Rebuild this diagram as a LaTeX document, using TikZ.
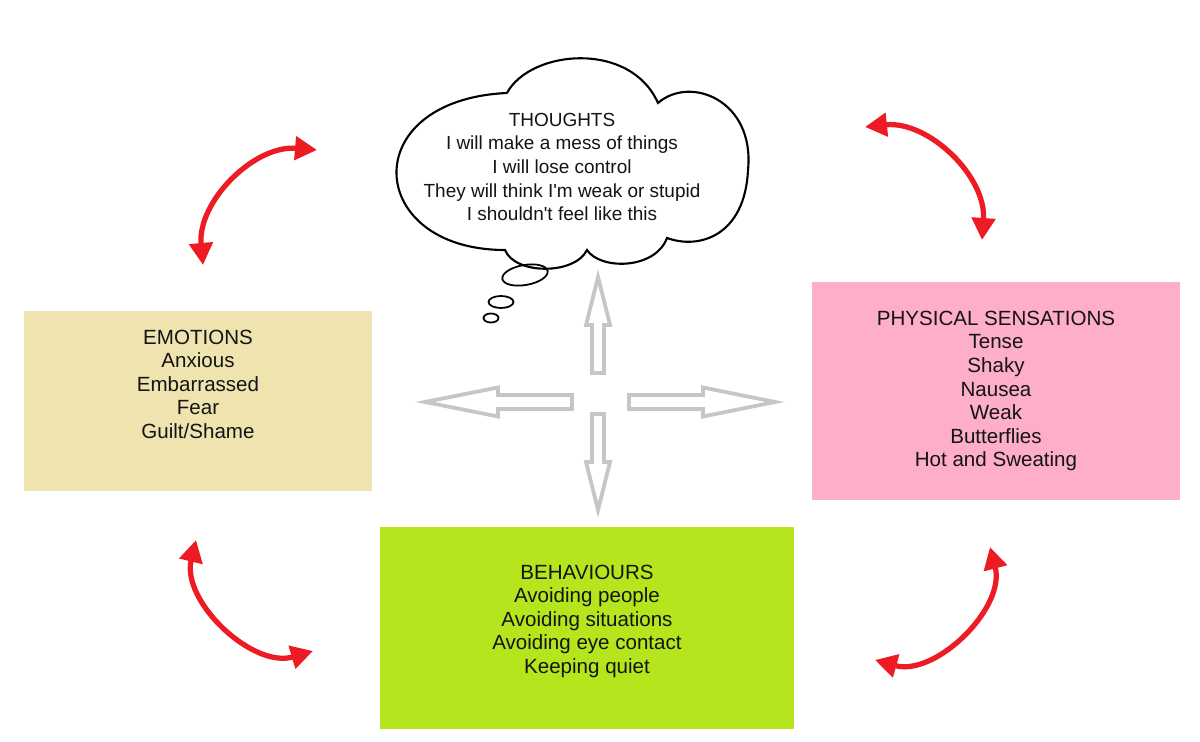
\documentclass[tikz,border=0pt]{standalone}
\usepackage{fontspec}
\setmainfont{Liberation Sans}
\usetikzlibrary{arrows.meta,positioning}
\definecolor{EmoTan}{RGB}{239,228,176}
\definecolor{BodyPink}{RGB}{255,174,201}
\definecolor{ActLime}{RGB}{181,230,29}
\definecolor{CycleRed}{RGB}{237,28,36}
\definecolor{HollowGray}{RGB}{198,198,198}
\definecolor{TextDark}{RGB}{20,20,20}

\begin{document}
\begin{tikzpicture}[
 x=0.02cm, y=-0.02cm,
 box/.style={rectangle, align=center, inner sep=0pt, text=TextDark, font=\fontsize{11.7}{13.4}\selectfont},
 thoughttxt/.style={align=center, inner sep=0pt, text=TextDark, font=\fontsize{10.8}{13.4}\selectfont},
 bubble/.style={draw, line width=1pt},
 cycarr/.style={{Triangle[length=4.4mm,width=4.6mm]}-{Triangle[length=4.4mm,width=4.6mm]}, line width=1.05mm, draw=CycleRed},
 hollow/.style={draw=HollowGray, line width=0.75mm, fill=white, line join=miter}
]
\fill[white] (0,0) rectangle (1200,742);
\useasboundingbox (0,0) rectangle (1200,742);

\node[box, fill=EmoTan, minimum width=6.96cm, minimum height=3.6cm, text depth=0.68cm] (emo) at (198,401)
 {EMOTIONS\\Anxious\\Embarrassed\\Fear\\Guilt/Shame};
\node[box, fill=BodyPink, minimum width=7.36cm, minimum height=4.36cm] (body) at (996,391)
 {PHYSICAL SENSATIONS\\Tense\\Shaky\\Nausea\\Weak\\Butterflies\\Hot and Sweating};
\node[box, fill=ActLime, minimum width=8.28cm, minimum height=4.04cm, text depth=0.36cm] (act) at (587,628)
 {BEHAVIOURS\\Avoiding people\\Avoiding situations\\Avoiding eye contact\\Keeping quiet};

% thought cloud
\draw[line width=1.2pt, fill=white] (507,93) .. controls (530,50) and (630,40) .. (658,103)
 .. controls (690,75) and (755,100) .. (748,170)
 .. controls (745,235) and (700,250) .. (667,238)
 .. controls (655,270) and (600,270) .. (587,250)
 .. controls (575,275) and (515,275) .. (505,250)
 .. controls (365,250) and (355,100) .. (507,93);
\node[thoughttxt] (thoughts) at (562,167)
 {THOUGHTS\\I will make a mess of things\\I will lose control\\They will think I\textquotesingle m weak or stupid\\I shouldn\textquotesingle t feel like this};
\draw[bubble, rotate around={10:(525,275)}] (525,275) ellipse [x radius=23, y radius=10];
\draw[bubble] (501,302) ellipse [x radius=12.5, y radius=6];
\draw[bubble] (491,318) ellipse [x radius=7.5, y radius=4.5];

\foreach \px/\py/\ang/\len/\hd/\hw/\sw in {598/373/90/96/48/12/6, 572/402/180/147/73/14.5/7,
 629/402/0/146/72/14.5/7, 598/414/270/96/48/12/6}
 \draw[hollow, shift={(\px,\py)}, rotate=\ang] (0,-\sw) -- (\len-\hd,-\sw) -- (\len-\hd,-\hw) -- (\len,0)
 -- (\len-\hd,\hw) -- (\len-\hd,\sw) -- (0,\sw) -- cycle;

\coordinate (tl-a) at (317,150);
\coordinate (tl-b) at (203,265);
\coordinate (tr-a) at (865,127);
\coordinate (tr-b) at (982,240);
\coordinate (bl-a) at (196,540);
\coordinate (bl-b) at (313,651);
\coordinate (br-a) at (990,547);
\coordinate (br-b) at (875,660);

\draw[cycarr] (tl-a) to[bend right=50] (tl-b);
\draw[cycarr] (tr-a) to[bend left=50] (tr-b);
\draw[cycarr] (bl-a) to[bend right=60] (bl-b);
\draw[cycarr] (br-a) to[bend left=60] (br-b);
\end{tikzpicture}
\end{document}
